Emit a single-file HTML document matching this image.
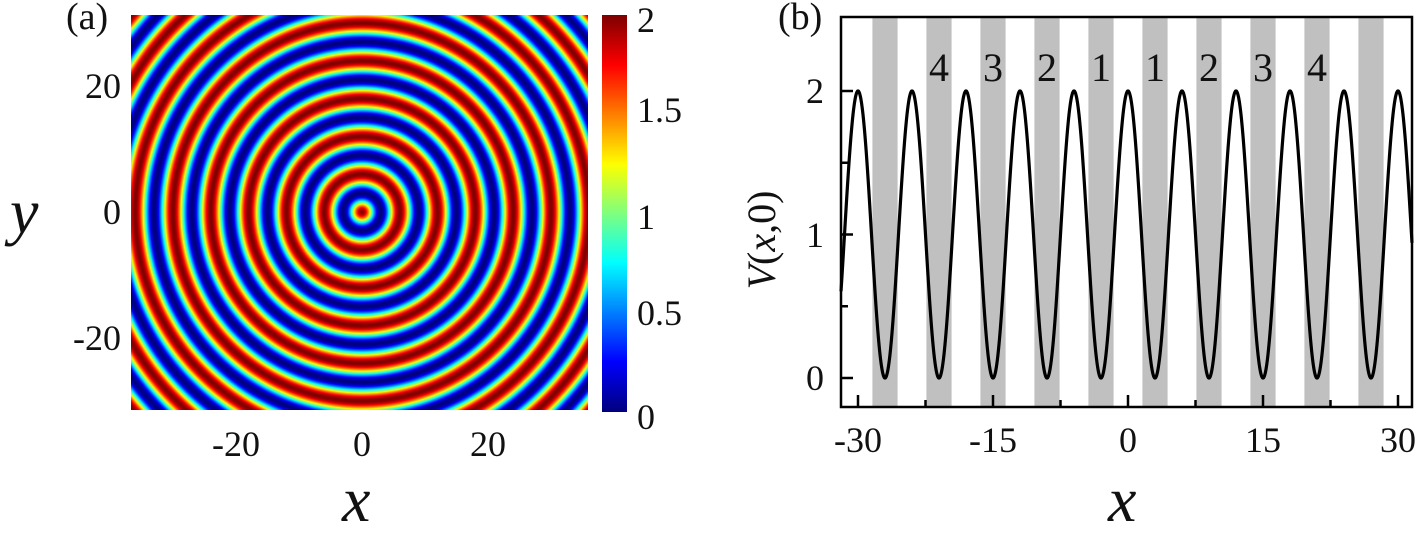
<!DOCTYPE html>
<html><head><meta charset="utf-8">
<style>
html,body{margin:0;padding:0;background:#fff;}
#root{position:relative;width:1425px;height:533px;overflow:hidden;font-family:"Liberation Serif","DejaVu Serif","Times New Roman",serif;}
.t{position:absolute;font-family:"Liberation Serif","DejaVu Serif","Times New Roman",serif;font-size:36px;color:#111;white-space:nowrap;line-height:1;}
</style></head>
<body>
<div id="root">
<canvas id="hm" width="457" height="395" style="position:absolute;left:131px;top:15px;"></canvas>
<canvas id="cb" width="25" height="397" style="position:absolute;left:602px;top:15px;"></canvas>
<svg id="svgb" width="1425" height="533" style="position:absolute;left:0;top:0;"></svg>
<div class="t" style="left:66px;top:-2px;font-size:38px;">(a)</div>
<div class="t" style="left:778px;top:-2px;font-size:38px;">(b)</div>
<div class="t" style="left:10px;top:180px;font-size:64px;font-style:italic;">y</div>
<div class="t" style="left:342px;top:468px;font-size:64px;font-style:italic;">x</div>
<div class="t" style="left:1108px;top:468px;font-size:64px;font-style:italic;">x</div>
<div class="t" style="left:762px;top:240px;font-size:40px;transform:translate(-50%,-50%) rotate(-90deg);"><i>V</i>(<i>x</i>,0)</div>
</div>
<script>
// ---- panel (a) data ----
const ringPeriod = [6];
const ringOffset = [1];
const ringAmplitude = [1];
const aXTicks = [-20, 0, 20];
const aYTicks = [20, 0, -20];
const cbTicks = ["2", "1.5", "1", "0.5", "0"];
const cbTickValues = [2, 1.5, 1, 0.5, 0];
// ---- panel (b) data ----
const bXTicks = [-30, -15, 0, 15, 30];
const bXMinor = [-22.5, -7.5, 7.5, 22.5];
const bYTicks = [0, 1, 2];
const bYMinor = [0.5, 1.5];
const bandCenters = [-27, -21, -15, -9, -3, 3, 9, 15, 21, 27];
const bandLabels = ["", "4", "3", "2", "1", "1", "2", "3", "4", ""];
const bandWidth = [2.8];
const wavePeriod = [6];

const root = document.getElementById('root');
function jet(v){
  const c = x => Math.max(0, Math.min(1, x));
  const r = c(1.5 - Math.abs(4*v - 3)), g = c(1.5 - Math.abs(4*v - 2)), b = c(1.5 - Math.abs(4*v - 1));
  return [r*255, g*255, b*255];
}
const aCx = 362, aCy = 212, aS = 6.3;
const axA = x => aCx + x*aS, ayA = y => aCy - y*aS;
(function(){
  const cv = document.getElementById('hm'), ctx = cv.getContext('2d');
  const img = ctx.createImageData(cv.width, cv.height);
  for (let j=0;j<cv.height;j++) for (let i=0;i<cv.width;i++){
    const x = (131+i+0.5-aCx)/aS, y = (aCy-(15+j+0.5))/aS;
    const r = Math.hypot(x,y);
    const v = ringOffset[0] + ringAmplitude[0]*Math.cos(2*Math.PI*r/ringPeriod[0]);
    const col = jet(v/2), k = 4*(j*cv.width+i);
    img.data[k]=col[0]; img.data[k+1]=col[1]; img.data[k+2]=col[2]; img.data[k+3]=255;
  }
  ctx.putImageData(img,0,0);
  const cb = document.getElementById('cb'), c2 = cb.getContext('2d');
  for (let j=0;j<cb.height;j++){ const col=jet(1-j/(cb.height-1)); c2.fillStyle=`rgb(${col[0]|0},${col[1]|0},${col[2]|0})`; c2.fillRect(0,j,cb.width,1); }
})();
function addText(txt, left, top, name, center){
  const d = document.createElement('div');
  d.className = 't'; d.textContent = txt;
  d.style.left = left+'px'; d.style.top = top+'px';
  if (center) d.style.transform = 'translateX(-50%)';
  
  
  root.appendChild(d);
  return d;
}
aXTicks.forEach(t => addText(String(t), axA(t), 426, 'x-tick-label-a', true));
aYTicks.forEach(t => { const d=document.createElement('div'); d.className='t'; d.textContent=String(t); d.style.right=(1425-121)+'px'; d.style.top=(ayA(t)-18)+'px';
  
  
  root.appendChild(d); });
const cbPos = [20, 110, 217, 313, 417];
cbTicks.forEach((t,i) => addText(t, 637, cbPos[i]-18, 'colorbar-tick-label'));

// ---- panel (b) ----
const NS='http://www.w3.org/2000/svg', svg=document.getElementById('svgb');
const bL=841, bR=1412, bT=17, bB=407;
const bx = x => 1128 + x*9.0;
const by = v => 378 - v*143.5;
function el(tag, attrs){ const e=document.createElementNS(NS,tag); for(const k in attrs) e.setAttribute(k,attrs[k]); svg.appendChild(e); return e; }
bandCenters.forEach((c,i) => {
  const r = el('rect',{x:bx(c-bandWidth[0]/2), y:bT, width:bandWidth[0]*9, height:bB-bT, fill:'#c0c0c0'});
  
  
  if (bandLabels[i]) { const d = addText(bandLabels[i], bx(c), 48, 'band-label-'+bandLabels[i], true); d.style.fontSize='40px'; }
});
let d='';
for (let px=bL; px<=bR; px+=0.5){
  const x=(px-1128)/9.0, v=1+Math.cos(2*Math.PI*x/wavePeriod[0]);
  d += (d?'L':'M')+px.toFixed(1)+','+by(v).toFixed(1);
}
const line = el('path',{d, fill:'none', stroke:'#000', 'stroke-width':3.2});


const frame = el('rect',{x:bL, y:bT, width:bR-bL, height:bB-bT, fill:'none', stroke:'#000', 'stroke-width':2.5});


bXTicks.forEach(t => { const l=el('line',{x1:bx(t),x2:bx(t),y1:bB,y2:bB-12,stroke:'#000','stroke-width':2.5});
  
  
  addText(String(t), bx(t), 422, 'x-tick-label-b', true); });
bXMinor.forEach(t => { const l=el('line',{x1:bx(t),x2:bx(t),y1:bB,y2:bB-7,stroke:'#000','stroke-width':2.5});
  
   });
bYTicks.forEach(t => { const l=el('line',{x1:bL,x2:bL+12,y1:by(t),y2:by(t),stroke:'#000','stroke-width':2.5});
  
  
  addText(String(t), 806, by(t)-18, 'y-tick-label-b'); });
bYMinor.forEach(t => { const l=el('line',{x1:bL,x2:bL+7,y1:by(t),y2:by(t),stroke:'#000','stroke-width':2.5});
  
   });
</script>
</body></html>
